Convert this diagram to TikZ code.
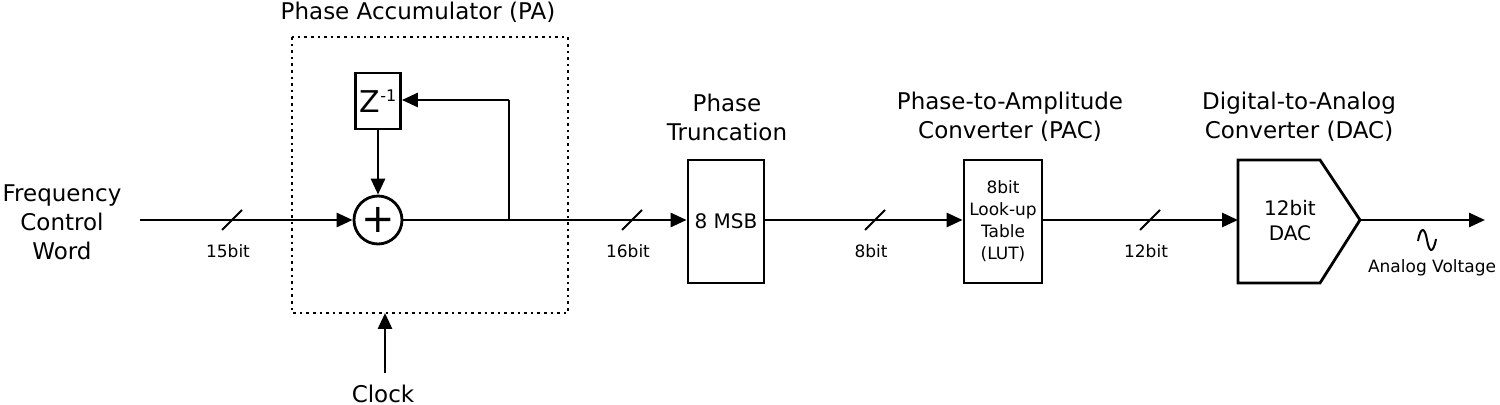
\documentclass[tikz,border=0pt]{standalone}
\usepackage{fontspec}
\setmainfont{DejaVu Sans}
\usetikzlibrary{arrows.meta}
\begin{document}
\begin{tikzpicture}[x=0.5pt,y=-0.5pt,line width=1.4pt,
  arr/.style={-{Triangle[length=8pt,width=7pt]}},
  big/.style={font=\fontsize{11.5}{14.5}\selectfont,align=center},
  small/.style={font=\fontsize{8.5}{10}\selectfont},
  mid/.style={font=\fontsize{8.5}{11}\selectfont,align=center},
  blk/.style={draw,minimum width=38pt,minimum height=61.5pt,inner sep=0pt}]
\useasboundingbox (0,0) rectangle (1500,405);
\node[big] (fcw) at (62,222) {Frequency\\Control\\Word};
\draw[dotted,line width=1.3pt] (292,37) rectangle (568,313);
\node[big] (patitle) at (418,12) {Phase Accumulator (PA)};
\node[draw,minimum width=22.5pt,minimum height=28pt,inner sep=0pt,font=\fontsize{15}{15}\selectfont] (z) at (378,101) {Z\raisebox{0.7ex}{\fontsize{8}{8}\selectfont -1}};
\node[draw,circle,minimum size=24pt,inner sep=0pt,font=\fontsize{20}{20}\selectfont] (add) at (378,220) {+};
\coordinate (in) at (140,220);
\draw[arr] (in) -- (add);
\draw[arr] (z) -- (add);
\coordinate (fb) at (509,220);
\coordinate (fbt) at (509,100);
\draw[arr] (fbt) -- (fbt -| z.east);
\draw (fb) -- (fbt);
\node[blk] (pt) at (726,221.5) {\fontsize{10}{12}\selectfont 8 MSB};
\node[big] at (727,117) {Phase\\Truncation};
\draw[arr] (add.east) -- (add.east -| pt.west);
\coordinate (clk) at (385,373);
\draw[arr] (clk) -- (385,313);
\node[big,anchor=base] at (383,403) {Clock};
\node[blk,minimum width=39pt] (lut) at (1003,221.5) {};
\node[mid] at (lut) {8bit\\Look-up\\Table\\(LUT)};
\node[big] at (1010,117) {Phase-to-Amplitude\\Converter (PAC)};
\draw[arr] (add.east -| pt.east) -- (add.east -| lut.west);
\node[big] at (1299,117) {Digital-to-Analog\\Converter (DAC)};
\coordinate (dacin) at (1238,220);
\coordinate (dacout) at (1360,220);
\draw (1238,160) -- (1320,160) -- (dacout) -- (1320,283) -- (1238,283) -- cycle;
\node[mid,font=\fontsize{10}{12.5}\selectfont] at (1290,221) {12bit\\DAC};
\draw[arr] (add.east -| lut.east) -- (dacin);
\coordinate (out) at (1485,220);
\draw[arr] (dacout) -- (out);
\draw[line width=1pt] (1418,241) .. controls (1421,225) and (1425,228) .. (1427,240) .. controls (1429,252) and (1433,255) .. (1436,239);
\node[small] at (1432,268) {Analog Voltage};
\foreach \x/\t in {232/15bit,632/16bit,875/8bit,1150/12bit}{
  \draw[line width=1pt] (\x-10,230) -- (\x+10,210);
  \node[small] at (\x-4,251) {\t};}
\end{tikzpicture}
\end{document}
